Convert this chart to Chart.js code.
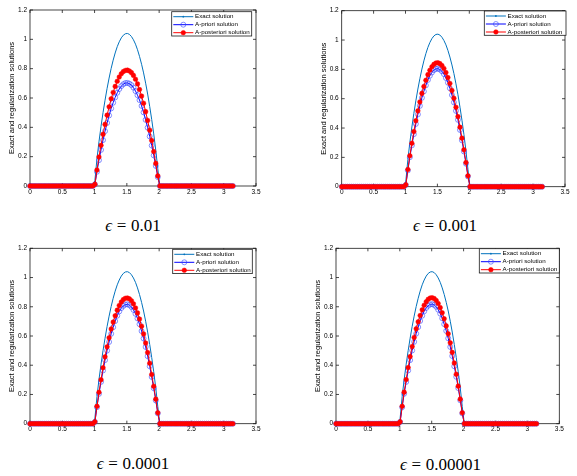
<!DOCTYPE html>
<html>
<head>
<meta charset="utf-8">
<script src="https://cdn.jsdelivr.net/npm/chart.js@4.4.1/dist/chart.umd.min.js"></script>
<style>
    html, body { margin: 0; padding: 0; background: #fff; }
    body { width: 577px; height: 476px; position: relative; overflow: hidden; }
    .panel { position: absolute; width: 288px; height: 200px; }
    .caption {
        position: absolute; width: 200px; text-align: center; white-space: nowrap;
        font-family: "Liberation Serif", "DejaVu Serif", serif; font-size: 17px; line-height: 17px; color: #000;
    }
    .caption .eps { font-style: italic; }
    .caption .eq { margin: 0 0.28em; }
</style>
</head>
<body>
<div class="panel" style="left:0;top:0"><canvas id="chart-1"></canvas></div>
<div class="panel" style="left:288px;top:0"><canvas id="chart-2"></canvas></div>
<div class="panel" style="left:0;top:238px"><canvas id="chart-3"></canvas></div>
<div class="panel" style="left:288px;top:238px"><canvas id="chart-4"></canvas></div>

<div class="caption" style="left:33px;top:216.5px"><span class="eps">ϵ</span><span class="eq">=</span>0.01</div>
<div class="caption" style="left:345px;top:216.5px"><span class="eps">ϵ</span><span class="eq">=</span>0.001</div>
<div class="caption" style="left:33px;top:454.5px"><span class="eps">ϵ</span><span class="eq">=</span>0.0001</div>
<div class="caption" style="left:340.5px;top:455.8px"><span class="eps">ϵ</span><span class="eq">=</span>0.00001</div>

<script>
(function() {
    'use strict';

    // grid points on [0, pi]
    const xGrid = [
        0, 0.031, 0.063, 0.094, 0.126, 0.157, 0.188, 0.22, 0.251, 0.283,
        0.314, 0.346, 0.377, 0.408, 0.44, 0.471, 0.503, 0.534, 0.565, 0.597,
        0.628, 0.66, 0.691, 0.723, 0.754, 0.785, 0.817, 0.848, 0.88, 0.911,
        0.942, 0.974, 1.005, 1.037, 1.068, 1.1, 1.131, 1.162, 1.194, 1.225,
        1.257, 1.288, 1.319, 1.351, 1.382, 1.414, 1.445, 1.477, 1.508, 1.539,
        1.571, 1.602, 1.634, 1.665, 1.696, 1.728, 1.759, 1.791, 1.822, 1.854,
        1.885, 1.916, 1.948, 1.979, 2.011, 2.042, 2.073, 2.105, 2.136, 2.168,
        2.199, 2.231, 2.262, 2.293, 2.325, 2.356, 2.388, 2.419, 2.45, 2.482,
        2.513, 2.545, 2.576, 2.608, 2.639, 2.67, 2.702, 2.733, 2.765, 2.796,
        2.827, 2.859, 2.89, 2.922, 2.953, 2.985, 3.016, 3.047, 3.079, 3.11,
        3.142
    ];

    const exactSol = [
        0, 0, 0, 0, 0, 0, 0, 0, 0, 0,
        0, 0, 0, 0, 0, 0, 0, 0, 0, 0,
        0, 0, 0, 0, 0, 0, 0, 0, 0, 0,
        0, 0, 0.037, 0.185, 0.301, 0.407, 0.500, 0.585, 0.666, 0.736,
        0.802, 0.858, 0.907, 0.950, 0.983, 1.010, 1.028, 1.038, 1.040, 1.034,
        1.019, 0.997, 0.967, 0.929, 0.884, 0.830, 0.771, 0.701, 0.627, 0.542,
        0.453, 0.355, 0.243, 0.118, 0, 0, 0, 0, 0, 0,
        0, 0, 0, 0, 0, 0, 0, 0, 0, 0,
        0, 0, 0, 0, 0, 0, 0, 0, 0, 0,
        0, 0, 0, 0, 0, 0, 0, 0, 0, 0,
        0
    ];

    // eps = 0.01
    const priori1 = [
        0, 0, 0, 0, 0, 0, 0, 0, 0, 0,
        0, 0, 0, 0, 0, 0, 0, 0, 0, 0,
        0, 0, 0, 0, 0, 0, 0, 0, 0, 0,
        0, 0, 0.011, 0.097, 0.176, 0.246, 0.313, 0.374, 0.430, 0.481,
        0.529, 0.568, 0.604, 0.636, 0.661, 0.681, 0.694, 0.702, 0.703, 0.698,
        0.688, 0.671, 0.647, 0.619, 0.586, 0.546, 0.502, 0.451, 0.398, 0.338,
        0.276, 0.209, 0.137, 0.061, 0, 0, 0, 0, 0, 0,
        0, 0, 0, 0, 0, 0, 0, 0, 0, 0,
        0, 0, 0, 0, 0, 0, 0, 0, 0, 0,
        0, 0, 0, 0, 0, 0, 0, 0, 0, 0,
        0
    ];
    const posteriori1 = [
        0, 0, 0, 0, 0, 0, 0, 0, 0, 0,
        0, 0, 0, 0, 0, 0, 0, 0, 0, 0,
        0, 0, 0, 0, 0, 0, 0, 0, 0, 0,
        0, 0, 0.012, 0.109, 0.198, 0.277, 0.352, 0.420, 0.483, 0.540,
        0.595, 0.638, 0.679, 0.714, 0.743, 0.765, 0.780, 0.788, 0.790, 0.784,
        0.773, 0.754, 0.728, 0.696, 0.658, 0.613, 0.564, 0.507, 0.447, 0.380,
        0.310, 0.235, 0.154, 0.069, 0, 0, 0, 0, 0, 0,
        0, 0, 0, 0, 0, 0, 0, 0, 0, 0,
        0, 0, 0, 0, 0, 0, 0, 0, 0, 0,
        0, 0, 0, 0, 0, 0, 0, 0, 0, 0,
        0
    ];

    // eps = 0.001
    const priori2 = [
        0, 0, 0, 0, 0, 0, 0, 0, 0, 0,
        0, 0, 0, 0, 0, 0, 0, 0, 0, 0,
        0, 0, 0, 0, 0, 0, 0, 0, 0, 0,
        0, 0, 0.012, 0.111, 0.201, 0.282, 0.358, 0.428, 0.493, 0.551,
        0.606, 0.650, 0.691, 0.728, 0.757, 0.779, 0.795, 0.803, 0.805, 0.799,
        0.787, 0.768, 0.741, 0.709, 0.671, 0.625, 0.575, 0.517, 0.456, 0.387,
        0.316, 0.240, 0.157, 0.070, 0, 0, 0, 0, 0, 0,
        0, 0, 0, 0, 0, 0, 0, 0, 0, 0,
        0, 0, 0, 0, 0, 0, 0, 0, 0, 0,
        0, 0, 0, 0, 0, 0, 0, 0, 0, 0,
        0
    ];
    const posteriori2 = [
        0, 0, 0, 0, 0, 0, 0, 0, 0, 0,
        0, 0, 0, 0, 0, 0, 0, 0, 0, 0,
        0, 0, 0, 0, 0, 0, 0, 0, 0, 0,
        0, 0, 0.013, 0.117, 0.211, 0.296, 0.376, 0.450, 0.517, 0.578,
        0.636, 0.683, 0.726, 0.764, 0.794, 0.818, 0.834, 0.843, 0.845, 0.839,
        0.826, 0.806, 0.778, 0.744, 0.704, 0.656, 0.603, 0.542, 0.478, 0.406,
        0.331, 0.252, 0.165, 0.074, 0, 0, 0, 0, 0, 0,
        0, 0, 0, 0, 0, 0, 0, 0, 0, 0,
        0, 0, 0, 0, 0, 0, 0, 0, 0, 0,
        0, 0, 0, 0, 0, 0, 0, 0, 0, 0,
        0
    ];

    // eps = 0.0001
    const priori3 = [
        0, 0, 0, 0, 0, 0, 0, 0, 0, 0,
        0, 0, 0, 0, 0, 0, 0, 0, 0, 0,
        0, 0, 0, 0, 0, 0, 0, 0, 0, 0,
        0, 0, 0.012, 0.113, 0.204, 0.286, 0.364, 0.435, 0.500, 0.559,
        0.615, 0.660, 0.702, 0.739, 0.768, 0.791, 0.806, 0.815, 0.817, 0.811,
        0.799, 0.779, 0.752, 0.720, 0.681, 0.634, 0.583, 0.525, 0.462, 0.393,
        0.320, 0.243, 0.159, 0.071, 0, 0, 0, 0, 0, 0,
        0, 0, 0, 0, 0, 0, 0, 0, 0, 0,
        0, 0, 0, 0, 0, 0, 0, 0, 0, 0,
        0, 0, 0, 0, 0, 0, 0, 0, 0, 0,
        0
    ];
    const posteriori3 = [
        0, 0, 0, 0, 0, 0, 0, 0, 0, 0,
        0, 0, 0, 0, 0, 0, 0, 0, 0, 0,
        0, 0, 0, 0, 0, 0, 0, 0, 0, 0,
        0, 0, 0.013, 0.119, 0.215, 0.301, 0.383, 0.458, 0.526, 0.588,
        0.648, 0.695, 0.739, 0.777, 0.808, 0.832, 0.849, 0.858, 0.860, 0.854,
        0.841, 0.820, 0.792, 0.758, 0.716, 0.667, 0.614, 0.552, 0.487, 0.414,
        0.337, 0.256, 0.168, 0.075, 0, 0, 0, 0, 0, 0,
        0, 0, 0, 0, 0, 0, 0, 0, 0, 0,
        0, 0, 0, 0, 0, 0, 0, 0, 0, 0,
        0, 0, 0, 0, 0, 0, 0, 0, 0, 0,
        0
    ];

    // eps = 0.00001
    const priori4 = [
        0, 0, 0, 0, 0, 0, 0, 0, 0, 0,
        0, 0, 0, 0, 0, 0, 0, 0, 0, 0,
        0, 0, 0, 0, 0, 0, 0, 0, 0, 0,
        0, 0, 0.012, 0.113, 0.205, 0.286, 0.364, 0.435, 0.501, 0.560,
        0.616, 0.661, 0.703, 0.739, 0.769, 0.792, 0.807, 0.816, 0.818, 0.812,
        0.800, 0.780, 0.753, 0.721, 0.681, 0.635, 0.584, 0.525, 0.463, 0.393,
        0.321, 0.244, 0.160, 0.071, 0, 0, 0, 0, 0, 0,
        0, 0, 0, 0, 0, 0, 0, 0, 0, 0,
        0, 0, 0, 0, 0, 0, 0, 0, 0, 0,
        0, 0, 0, 0, 0, 0, 0, 0, 0, 0,
        0
    ];
    const posteriori4 = [
        0, 0, 0, 0, 0, 0, 0, 0, 0, 0,
        0, 0, 0, 0, 0, 0, 0, 0, 0, 0,
        0, 0, 0, 0, 0, 0, 0, 0, 0, 0,
        0, 0, 0.013, 0.119, 0.216, 0.302, 0.384, 0.459, 0.528, 0.590,
        0.649, 0.697, 0.740, 0.779, 0.810, 0.834, 0.851, 0.860, 0.862, 0.856,
        0.843, 0.822, 0.794, 0.759, 0.718, 0.669, 0.615, 0.553, 0.488, 0.415,
        0.338, 0.257, 0.168, 0.075, 0, 0, 0, 0, 0, 0,
        0, 0, 0, 0, 0, 0, 0, 0, 0, 0,
        0, 0, 0, 0, 0, 0, 0, 0, 0, 0,
        0, 0, 0, 0, 0, 0, 0, 0, 0, 0,
        0
    ];

    const seriesLabels = ['Exact solution', 'A-priori solution', 'A-posteriori solution'];
    const yAxisLabel = 'Exact and regularization solutions';

    const panels = [
        { id: 'chart-1', priori: priori1, posteriori: posteriori1,
          pad: { left: 0, top: 10, right: 32, bottom: 2 }, legend: { dx: -4.3, dy: 1.7, w: 80 } },
        { id: 'chart-2', priori: priori2, posteriori: posteriori2,
          pad: { left: 23.7, top: 10.7, right: 11, bottom: 1.3 }, legend: { dx: 1, dy: 0.3, w: 81.7 } },
        { id: 'chart-3', priori: priori3, posteriori: posteriori3,
          pad: { left: 0, top: 10.3, right: 32, bottom: 2.3 }, legend: { dx: -3.7, dy: 1, w: 79.6 } },
        { id: 'chart-4', priori: priori4, posteriori: posteriori4,
          pad: { left: 18, top: 10.3, right: 16.7, bottom: 2.3 }, legend: { dx: 0, dy: 0.4, w: 80 } }
    ];

    const SANS = '"Liberation Sans", Arial, sans-serif';

    function toPoints(ys) {
        return xGrid.map((x, i) => ({ x: x, y: ys[i] }));
    }

    // matlab style tick text: 1 not 1.0
    function tickText(value) {
        return String(parseFloat(value.toFixed(1)));
    }

    // box + inward ticks on all four sides
    const matlabBox = {
        id: 'matlabBox',
        beforeDatasetsDraw(chart) {
            const { ctx, chartArea: a } = chart;
            const xs = chart.scales.x, ys = chart.scales.y;
            ctx.save();
            ctx.strokeStyle = '#1a1a1a';
            ctx.lineWidth = 0.8;
            ctx.strokeRect(a.left, a.top, a.right - a.left, a.bottom - a.top);
            ctx.beginPath();
            xs.ticks.forEach(t => {
                const px = xs.getPixelForValue(t.value);
                ctx.moveTo(px, a.bottom); ctx.lineTo(px, a.bottom - 3);
                ctx.moveTo(px, a.top); ctx.lineTo(px, a.top + 3);
            });
            ys.ticks.forEach(t => {
                const py = ys.getPixelForValue(t.value);
                ctx.moveTo(a.left, py); ctx.lineTo(a.left + 3, py);
                ctx.moveTo(a.right, py); ctx.lineTo(a.right - 3, py);
            });
            ctx.stroke();
            ctx.restore();
        }
    };

    const boxLegend = {
        id: 'boxLegend',
        afterDraw(chart, args, opts) {
            const { ctx, chartArea: a } = chart;
            const w = opts.w, h = 24.3;
            const x0 = a.right + opts.dx - w;
            const y0 = a.top + opts.dy;
            ctx.save();
            ctx.fillStyle = '#fff';
            ctx.fillRect(x0, y0, w, h);
            ctx.strokeStyle = '#1a1a1a';
            ctx.lineWidth = 0.8;
            ctx.strokeRect(x0, y0, w, h);
            ctx.font = '6.2px ' + SANS;
            ctx.textBaseline = 'middle';
            chart.data.datasets.forEach((ds, i) => {
                const cy = y0 + 5 + 8 * i;
                ctx.strokeStyle = ds.borderColor;
                ctx.lineWidth = 1;
                ctx.beginPath();
                ctx.moveTo(x0 + 1.6, cy);
                ctx.lineTo(x0 + 21.6, cy);
                ctx.stroke();
                const r = ds.pointRadius || 0.9;
                ctx.beginPath();
                ctx.arc(x0 + 11.6, cy, r, 0, Math.PI * 2);
                if (ds.pointRadius) {
                    if (ds.pointBackgroundColor !== 'transparent') {
                        ctx.fillStyle = ds.pointBackgroundColor;
                        ctx.fill();
                    }
                    ctx.strokeStyle = ds.pointBorderColor;
                    ctx.lineWidth = ds.pointBorderWidth;
                    ctx.stroke();
                } else {
                    ctx.fillStyle = ds.borderColor;
                    ctx.fill();
                }
                ctx.fillStyle = '#000';
                ctx.fillText(ds.label, x0 + 23.3, cy);
            });
            ctx.restore();
        }
    };

    function renderPanel(p) {
        const ctx = document.getElementById(p.id);
        if (!ctx) return;

        new Chart(ctx, {
            type: 'line',
            data: {
                datasets: [{
                    label: seriesLabels[0],
                    data: toPoints(exactSol),
                    borderColor: '#0072BD',
                    borderWidth: 1,
                    pointRadius: 0,
                    order: 3
                }, {
                    label: seriesLabels[1],
                    data: toPoints(p.priori),
                    borderColor: '#0000FF',
                    borderWidth: 1,
                    pointRadius: 2.5,
                    pointBorderWidth: 0.6,
                    pointBorderColor: '#3344ff',
                    pointBackgroundColor: 'transparent',
                    order: 2
                }, {
                    label: seriesLabels[2],
                    data: toPoints(p.posteriori),
                    borderColor: '#FF0000',
                    borderWidth: 1,
                    pointRadius: 2.3,
                    pointBorderWidth: 0.5,
                    pointBorderColor: '#FF0000',
                    pointBackgroundColor: '#FF0000',
                    order: 1
                }]
            },
            options: {
                responsive: true,
                maintainAspectRatio: false,
                animation: false,
                events: [],
                clip: false,
                elements: { line: { tension: 0 } },
                layout: { padding: p.pad },
                plugins: {
                    legend: { display: false },
                    tooltip: { enabled: false },
                    boxLegend: p.legend
                },
                scales: {
                    x: {
                        type: 'linear',
                        min: 0,
                        max: 3.5,
                        grid: { display: false, drawTicks: false },
                        border: { display: false },
                        ticks: {
                            stepSize: 0.5,
                            autoSkip: false,
                            maxRotation: 0,
                            padding: 2,
                            color: '#000',
                            font: { family: SANS, size: 6.5 },
                            callback: tickText
                        },
                        afterFit(scale) { scale.height = 12; }
                    },
                    y: {
                        min: 0,
                        max: 1.2,
                        grid: { display: false, drawTicks: false },
                        border: { display: false },
                        ticks: {
                            stepSize: 0.2,
                            padding: 3,
                            color: '#000',
                            font: { family: SANS, size: 6.5 },
                            callback: tickText
                        },
                        title: {
                            display: true,
                            text: yAxisLabel,
                            color: '#000',
                            padding: { top: 7.5, bottom: 0 },
                            font: { family: SANS, size: 7.5 }
                        },
                        afterFit(scale) { scale.width = 30; }
                    }
                }
            },
            plugins: [matlabBox, boxLegend]
        });
    }

    panels.forEach(renderPanel);
})();
</script>
</body>
</html>
